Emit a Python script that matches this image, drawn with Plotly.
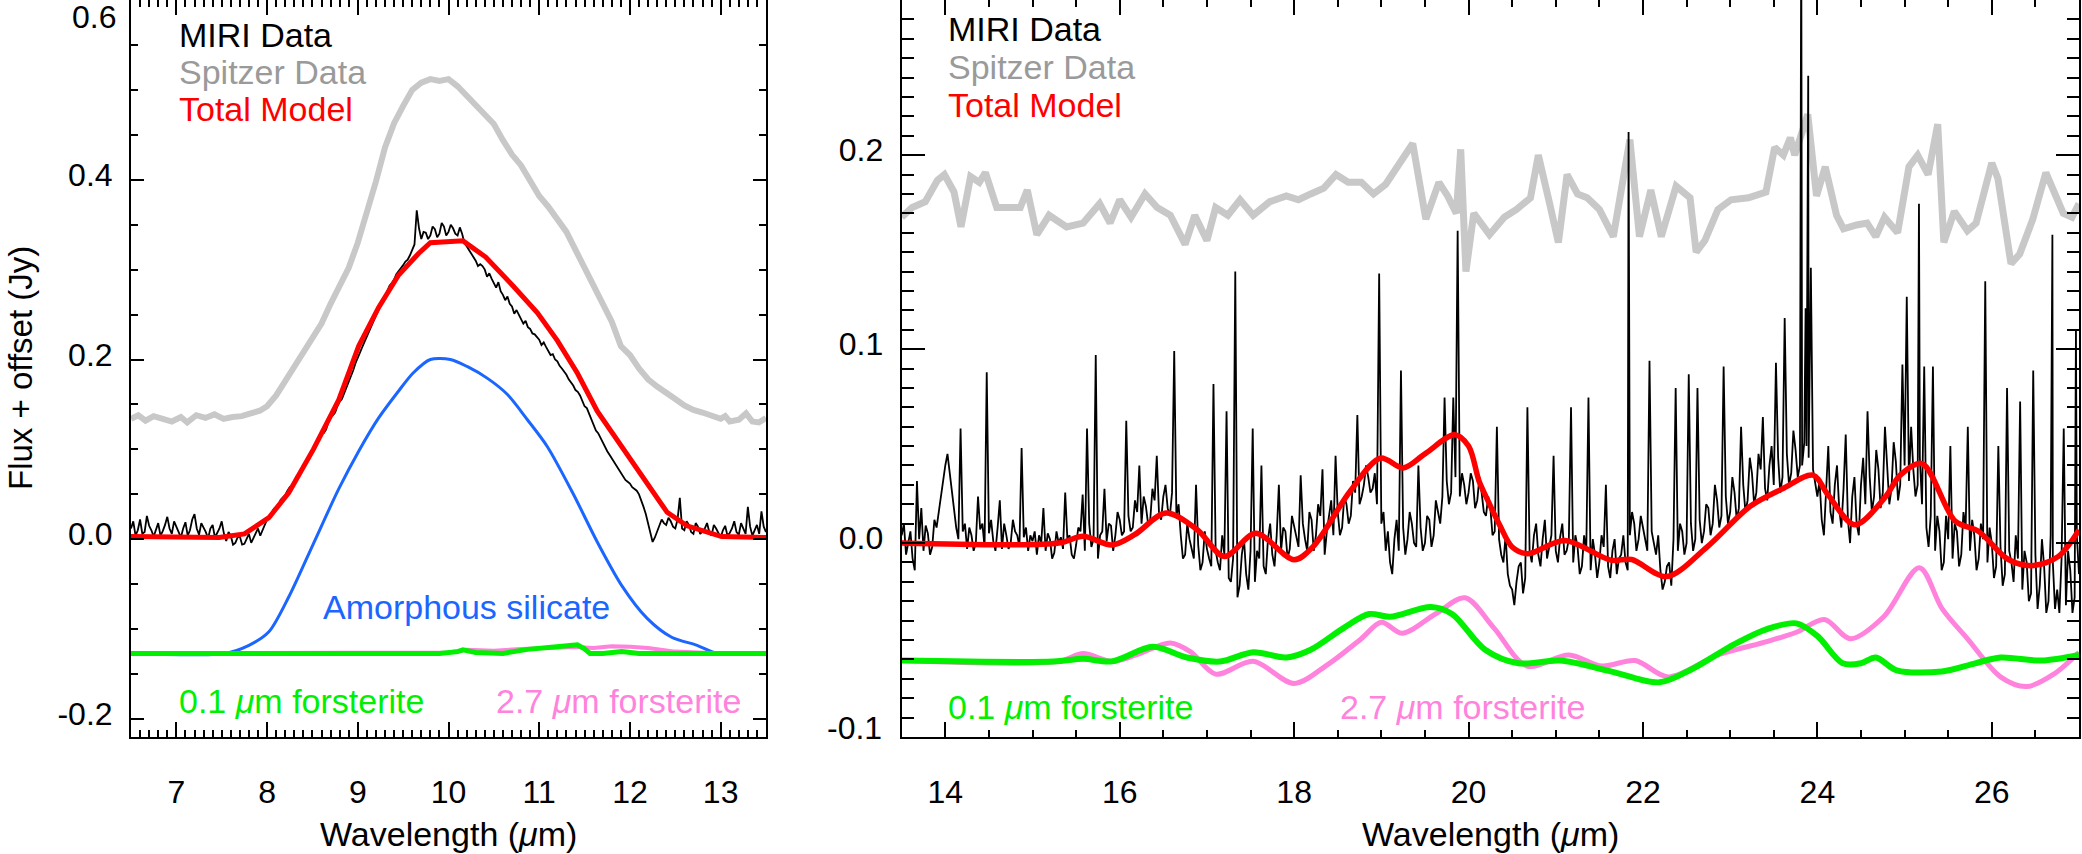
import plotly.graph_objects as go

W, H = 2082, 854
FONT = "Liberation Sans, Arial, Helvetica, sans-serif"

# ---------------- Left panel data (6.5 - 13.5 um) ----------------
left_spitzer_x = [6.50, 6.58, 6.66, 6.75, 6.85, 6.95, 7.05, 7.12, 7.22, 7.32, 7.42, 7.52, 7.62, 7.72, 7.82, 7.92,
                  8.00, 8.10, 8.20, 8.30, 8.40, 8.50, 8.60, 8.70, 8.80, 8.90, 9.00, 9.10, 9.20, 9.30, 9.40, 9.50,
                  9.60, 9.70, 9.80, 9.90, 10.00, 10.10, 10.20, 10.30, 10.40, 10.50, 10.60, 10.70, 10.80, 10.90,
                  11.00, 11.10, 11.20, 11.30, 11.40, 11.50, 11.60, 11.70, 11.80, 11.90, 12.00, 12.10, 12.20,
                  12.30, 12.40, 12.50, 12.60, 12.70, 12.80, 12.90, 13.00, 13.05, 13.10, 13.20, 13.28, 13.35,
                  13.42, 13.50]
left_spitzer_y = [0.134, 0.138, 0.132, 0.137, 0.134, 0.131, 0.136, 0.130, 0.138, 0.135, 0.139, 0.134, 0.136, 0.137,
                  0.140, 0.143, 0.148, 0.160, 0.176, 0.192, 0.207, 0.222, 0.240, 0.262, 0.283, 0.302, 0.330, 0.362,
                  0.398, 0.436, 0.463, 0.482, 0.500, 0.508, 0.512, 0.510, 0.512, 0.504, 0.494, 0.484, 0.472, 0.462,
                  0.444, 0.428, 0.416, 0.398, 0.382, 0.370, 0.356, 0.342, 0.322, 0.302, 0.282, 0.262, 0.242, 0.215,
                  0.205, 0.190, 0.178, 0.170, 0.162, 0.156, 0.149, 0.144, 0.141, 0.137, 0.134, 0.137, 0.131, 0.133,
                  0.140, 0.131, 0.130, 0.135]

left_miri_x = [6.50, 6.55, 6.60, 6.65, 6.70, 6.75, 6.80, 6.85, 6.90, 6.95,
               7.00, 7.05, 7.10, 7.15, 7.20, 7.25, 7.30, 7.35, 7.40, 7.45,
               7.50, 7.55, 7.60, 7.65, 7.70, 7.75, 7.80, 7.85, 7.90, 7.95,
               8.00, 8.05, 8.10, 8.15, 8.20, 8.25, 8.30, 8.35, 8.40, 8.45,
               8.50, 8.55, 8.60, 8.65, 8.70, 8.75, 8.80, 8.85, 8.90, 8.95,
               9.00, 9.05, 9.10, 9.15, 9.20, 9.25, 9.30, 9.35, 9.40, 9.45,
               9.50, 9.55, 9.60, 9.65, 9.70, 9.75, 9.80, 9.85, 9.90, 9.95,
               10.00, 10.05, 10.10, 10.15, 10.20, 10.25, 10.30, 10.35, 10.40, 10.45,
               10.50, 10.55, 10.60, 10.65, 10.70, 10.75, 10.80, 10.85, 10.90, 10.95,
               11.00, 11.05, 11.10, 11.15, 11.20, 11.25, 11.30, 11.35, 11.40, 11.45,
               11.50, 11.55, 11.60, 11.65, 11.70, 11.75, 11.80, 11.85, 11.90, 11.95,
               12.00, 12.05, 12.10, 12.15, 12.20, 12.25, 12.30, 12.35, 12.40, 12.45,
               12.50, 12.55, 12.60, 12.65, 12.70, 12.75, 12.80, 12.85, 12.90, 12.95,
               13.00, 13.05, 13.10, 13.15, 13.20, 13.25, 13.30, 13.35, 13.40, 13.45,
               13.50]
left_miri_y = [0.012, 0.004, 0.022, 0.008, 0.015, 0.003, 0.018, 0.009, 0.025, 0.006,
               0.014, 0.002, 0.019, 0.010, 0.028, 0.005, 0.013, 0.001, 0.016, 0.007,
               0.020, -0.002, 0.004, -0.004, 0.003, -0.005, 0.006, 0.001, 0.012, 0.010,
               0.022, 0.030, 0.036, 0.044, 0.049, 0.058, 0.066, 0.072, 0.083, 0.090,
               0.100, 0.106, 0.118, 0.122, 0.136, 0.141, 0.153, 0.162, 0.176, 0.188,
               0.203, 0.214, 0.226, 0.238, 0.249, 0.262, 0.270, 0.282, 0.289, 0.298,
               0.305, 0.311, 0.322, 0.366, 0.334, 0.341, 0.338, 0.345, 0.340, 0.348,
               0.342, 0.346, 0.338, 0.340, 0.326, 0.318, 0.310, 0.306, 0.300, 0.296,
               0.285, 0.286, 0.272, 0.270, 0.259, 0.255, 0.246, 0.243, 0.234, 0.228,
               0.222, 0.219, 0.210, 0.206, 0.198, 0.190, 0.183, 0.175, 0.166, 0.160,
               0.148, 0.140, 0.126, 0.118, 0.108, 0.098, 0.090, 0.081, 0.074, 0.066,
               0.062, 0.056, 0.050, 0.036, 0.018, -0.003, 0.008, 0.022, 0.016, 0.020,
               0.012, 0.046, 0.010, 0.016, 0.006, 0.014, 0.009, 0.018, 0.004, 0.012,
               0.002, 0.015, 0.007, 0.020, 0.005, 0.012, 0.036, 0.004, 0.016, 0.031,
               0.008]
left_miri_mid_x = [6.525, 6.575, 6.625, 6.675, 6.725, 6.775, 6.825, 6.875, 6.925, 6.975,
                   7.025, 7.075, 7.125, 7.175, 7.225, 7.275, 7.325, 7.375, 7.425, 7.475,
                   7.525, 7.575, 7.625, 7.675, 7.725, 7.775, 7.825, 7.875, 7.925, 7.975,
                   8.025, 8.075, 8.125, 8.175, 8.225, 8.275, 8.325, 8.375, 8.425, 8.475,
                   8.525, 8.575, 8.625, 8.675, 8.725, 8.775, 8.825, 8.875, 8.925, 8.975,
                   9.025, 9.075, 9.125, 9.175, 9.225, 9.275, 9.325, 9.375, 9.425, 9.475,
                   9.525, 9.575, 9.625, 9.675, 9.725, 9.775, 9.825, 9.875, 9.925, 9.975,
                   10.025, 10.075, 10.125, 10.175, 10.225, 10.275, 10.325, 10.375, 10.425, 10.475,
                   10.525, 10.575, 10.625, 10.675, 10.725, 10.775, 10.825, 10.875, 10.925, 10.975,
                   11.025, 11.075, 11.125, 11.175, 11.225, 11.275, 11.325, 11.375, 11.425, 11.475,
                   11.525, 11.575, 11.625, 11.675, 11.725, 11.775, 11.825, 11.875, 11.925, 11.975,
                   12.025, 12.075, 12.125, 12.175, 12.225, 12.275, 12.325, 12.375, 12.425, 12.475,
                   12.525, 12.575, 12.625, 12.675, 12.725, 12.775, 12.825, 12.875, 12.925, 12.975,
                   13.025, 13.075, 13.125, 13.175, 13.225, 13.275, 13.325, 13.375, 13.425, 13.475]
left_miri_mid_y = [0.020, 0.010, 0.006, 0.026, 0.010, 0.012, 0.004, 0.016, 0.012, 0.020,
                   0.008, 0.012, 0.004, 0.022, 0.012, 0.018, 0.008, 0.012, 0.002, 0.012,
                   0.006, 0.008, -0.006, 0.002, -0.006, 0.000, -0.004, 0.006, 0.004, 0.016,
                   0.024, 0.034, 0.038, 0.046, 0.054, 0.060, 0.070, 0.077, 0.086, 0.096,
                   0.102, 0.112, 0.118, 0.130, 0.138, 0.148, 0.156, 0.170, 0.180, 0.196,
                   0.208, 0.220, 0.232, 0.244, 0.255, 0.266, 0.276, 0.285, 0.295, 0.301,
                   0.309, 0.316, 0.328, 0.346, 0.342, 0.334, 0.348, 0.336, 0.352, 0.338,
                   0.350, 0.340, 0.347, 0.330, 0.322, 0.314, 0.304, 0.304, 0.292, 0.290,
                   0.280, 0.276, 0.266, 0.262, 0.251, 0.250, 0.240, 0.236, 0.229, 0.225,
                   0.216, 0.214, 0.205, 0.200, 0.193, 0.187, 0.178, 0.171, 0.164, 0.153,
                   0.146, 0.132, 0.121, 0.113, 0.102, 0.094, 0.085, 0.078, 0.070, 0.064,
                   0.058, 0.054, 0.044, 0.028, 0.006, 0.002, 0.016, 0.018, 0.024, 0.014,
                   0.022, 0.012, 0.020, 0.008, 0.018, 0.006, 0.012, 0.008, 0.016, 0.006,
                   0.010, 0.004, 0.012, 0.008, 0.018, 0.006, 0.014, 0.010, 0.006, 0.014]

left_model_x = [6.5, 7.0, 7.47, 7.75, 8.02, 8.24, 8.51, 8.79, 9.01, 9.23, 9.45, 9.67, 9.8, 10.16, 10.41, 10.71,
                10.98, 11.2, 11.42, 11.64, 11.91, 12.19, 12.41, 12.63, 13.01, 13.5]
left_model_y = [0.003, 0.003, 0.002, 0.006, 0.024, 0.052, 0.100, 0.155, 0.215, 0.258, 0.294, 0.318, 0.330, 0.332,
                0.314, 0.282, 0.252, 0.221, 0.185, 0.1425, 0.103, 0.064, 0.030, 0.015, 0.003, 0.002]

left_amorph_x = [6.5, 7.53, 7.8, 8.02, 8.24, 8.51, 8.79, 9.01, 9.23, 9.45, 9.61, 9.8, 10.02, 10.21, 10.43, 10.65,
                 10.87, 11.09, 11.37, 11.64, 11.91, 12.19, 12.46, 12.74, 12.96, 13.5]
left_amorph_y = [-0.127, -0.127, -0.118, -0.103, -0.064, -0.005, 0.056, 0.098, 0.135, 0.165, 0.185, 0.200, 0.200,
                 0.192, 0.179, 0.161, 0.133, 0.103, 0.0515, -0.003, -0.0515, -0.088, -0.109, -0.118, -0.127, -0.127]

left_fo01_x = [6.5, 9.9, 10.1, 10.16, 10.3, 10.5, 10.6, 10.87, 11.1, 11.37, 11.42, 11.5, 11.56, 11.7, 11.91, 12.1,
               12.5, 13.5]
left_fo01_y = [-0.127, -0.127, -0.125, -0.123, -0.126, -0.126, -0.127, -0.1225, -0.121, -0.118, -0.1175, -0.122,
               -0.127, -0.127, -0.125, -0.127, -0.127, -0.127]

left_fo27_x = [6.5, 9.8, 10.0, 10.2, 10.5, 10.8, 11.1, 11.4, 11.6, 11.8, 12.0, 12.2, 12.5, 13.0, 13.5]
left_fo27_y = [-0.127, -0.127, -0.126, -0.123, -0.124, -0.122, -0.121, -0.120, -0.121, -0.119, -0.1195, -0.121,
               -0.125, -0.127, -0.127]

# ---------------- Right panel data (13.5 - 27 um) ----------------
right_spitzer_x = [13.50, 13.62, 13.77, 13.91, 13.99, 14.10, 14.18, 14.29, 14.39, 14.46, 14.59, 14.86, 14.94,
                   15.05, 15.19, 15.39, 15.58, 15.77, 15.89, 16.00, 16.13, 16.29, 16.43, 16.58, 16.75, 16.86,
                   17.00, 17.10, 17.24, 17.38, 17.53, 17.72, 17.91, 18.05, 18.19, 18.34, 18.48, 18.62, 18.77,
                   18.91, 19.05, 19.19, 19.36, 19.51, 19.66, 19.76, 19.86, 19.91, 19.97, 20.06, 20.24, 20.41,
                   20.55, 20.71, 20.80, 20.93, 21.03, 21.13, 21.25, 21.36, 21.50, 21.66, 21.85, 21.96, 22.09,
                   22.21, 22.38, 22.54, 22.61, 22.71, 22.86, 23.01, 23.21, 23.41, 23.51, 23.61, 23.69, 23.74,
                   23.89, 23.99, 24.09, 24.22, 24.30, 24.45, 24.57, 24.67, 24.77, 24.92, 25.05, 25.15, 25.27,
                   25.38, 25.45, 25.57, 25.72, 25.82, 26.00, 26.07, 26.22, 26.32, 26.47, 26.62, 26.72, 26.82,
                   26.92, 27.00]
right_spitzer_y = [0.168, 0.173, 0.176, 0.187, 0.190, 0.181, 0.163, 0.189, 0.186, 0.191, 0.173, 0.173, 0.182,
                   0.159, 0.169, 0.163, 0.165, 0.175, 0.165, 0.177, 0.168, 0.180, 0.173, 0.169, 0.154, 0.169,
                   0.156, 0.173, 0.169, 0.177, 0.169, 0.176, 0.179, 0.177, 0.180, 0.183, 0.190, 0.186, 0.186,
                   0.180, 0.185, 0.194, 0.206, 0.167, 0.186, 0.179, 0.170, 0.203, 0.140, 0.170, 0.159, 0.168,
                   0.172, 0.178, 0.200, 0.175, 0.155, 0.190, 0.180, 0.178, 0.172, 0.158, 0.208, 0.158, 0.182,
                   0.158, 0.184, 0.178, 0.150, 0.156, 0.172, 0.177, 0.178, 0.181, 0.204, 0.200, 0.209, 0.200,
                   0.221, 0.179, 0.194, 0.169, 0.162, 0.164, 0.165, 0.158, 0.168, 0.160, 0.194, 0.200, 0.190,
                   0.216, 0.155, 0.171, 0.161, 0.165, 0.196, 0.188, 0.144, 0.149, 0.167, 0.191, 0.181, 0.170,
                   0.168, 0.175]

right_miri_x = [13.50, 13.55, 13.60, 13.65, 13.70, 13.75, 13.80, 13.85, 13.90, 13.95,
                14.00, 14.05, 14.10, 14.15, 14.20, 14.25, 14.30, 14.35, 14.40, 14.45,
                14.50, 14.55, 14.60, 14.65, 14.70, 14.75, 14.80, 14.85, 14.90, 14.95,
                15.00, 15.05, 15.10, 15.15, 15.20, 15.25, 15.30, 15.35, 15.40, 15.45,
                15.50, 15.55, 15.60, 15.65, 15.70, 15.75, 15.80, 15.85, 15.90, 15.95,
                16.00, 16.05, 16.10, 16.15, 16.20, 16.25, 16.30, 16.35, 16.40, 16.45,
                16.50, 16.55, 16.60, 16.65, 16.70, 16.75, 16.80, 16.85, 16.90, 16.95,
                17.00, 17.05, 17.10, 17.15, 17.20, 17.25, 17.30, 17.35, 17.40, 17.45,
                17.50, 17.55, 17.60, 17.65, 17.70, 17.75, 17.80, 17.85, 17.90, 17.95,
                18.00, 18.05, 18.10, 18.15, 18.20, 18.25, 18.30, 18.35, 18.40, 18.45,
                18.50, 18.55, 18.60, 18.65, 18.70, 18.75, 18.80, 18.85, 18.90, 18.95,
                19.00, 19.05, 19.10, 19.15, 19.20, 19.25, 19.30, 19.35, 19.40, 19.45,
                19.50, 19.55, 19.60, 19.65, 19.70, 19.75, 19.80, 19.85, 19.90, 19.95,
                20.00, 20.05, 20.10, 20.15, 20.20, 20.25, 20.30, 20.35, 20.40, 20.45,
                20.50, 20.55, 20.60, 20.65, 20.70, 20.75, 20.80, 20.85, 20.90, 20.95,
                21.00, 21.05, 21.10, 21.15, 21.20, 21.25, 21.30, 21.35, 21.40, 21.45,
                21.50, 21.55, 21.60, 21.65, 21.70, 21.75, 21.80, 21.85, 21.90, 21.95,
                22.00, 22.05, 22.10, 22.15, 22.20, 22.25, 22.30, 22.35, 22.40, 22.45,
                22.50, 22.55, 22.60, 22.65, 22.70, 22.75, 22.80, 22.85, 22.90, 22.95,
                23.00, 23.05, 23.10, 23.15, 23.20, 23.25, 23.30, 23.35, 23.40, 23.45,
                23.50, 23.55, 23.60, 23.65, 23.70, 23.75, 23.80, 23.85, 23.90, 23.95,
                24.00, 24.05, 24.10, 24.15, 24.20, 24.25, 24.30, 24.35, 24.40, 24.45,
                24.50, 24.55, 24.60, 24.65, 24.70, 24.75, 24.80, 24.85, 24.90, 24.95,
                25.00, 25.05, 25.10, 25.15, 25.20, 25.25, 25.30, 25.35, 25.40, 25.45,
                25.50, 25.55, 25.60, 25.65, 25.70, 25.75, 25.80, 25.85, 25.90, 25.95,
                26.00, 26.05, 26.10, 26.15, 26.20, 26.25, 26.30, 26.35, 26.40, 26.45,
                26.50, 26.55, 26.60, 26.65, 26.70, 26.75, 26.80, 26.85, 26.90, 26.95,
                27.00]
right_miri_y = [0.004, -0.006, 0.006, -0.014, 0.002, -0.004, 0.005, -0.002, 0.008, 0.024,
                0.040, 0.036, 0.018, 0.002, 0.006, -0.003, 0.004, 0.000, 0.007, -0.002,
                0.005, 0.001, 0.008, -0.003, 0.004, 0.000, 0.006, -0.002, 0.003, -0.004,
                0.001, -0.006, 0.000, -0.004, 0.002, -0.005, 0.000, -0.003, 0.002, -0.006,
                -0.001, 0.006, -0.004, 0.010, 0.002, -0.008, 0.006, 0.001, 0.009, 0.004,
                0.012, 0.006, 0.014, 0.008, 0.016, 0.010, 0.019, 0.012, 0.022, 0.016,
                0.024, 0.018, 0.026, 0.014, 0.004, -0.006, 0.002, -0.008, -0.001, -0.010,
                -0.003, -0.012, -0.004, -0.014, -0.006, -0.018, -0.008, -0.028, -0.006, -0.016,
                -0.004, -0.020, -0.008, -0.012, 0.002, -0.006, 0.004, -0.004, 0.006, -0.003,
                0.008, -0.002, 0.010, -0.004, 0.012, 0.004, 0.014, -0.006, 0.013, 0.004,
                0.016, 0.008, 0.020, 0.014, 0.026, 0.020, 0.030, 0.034, 0.028, 0.020,
                0.010, -0.004, -0.010, 0.002, -0.004, 0.008, 0.002, 0.010, -0.002, 0.008,
                0.000, 0.012, 0.004, 0.016, 0.024, 0.032, 0.026, 0.034, 0.024, 0.030,
                0.026, 0.032, 0.022, 0.026, 0.014, 0.018, 0.006, 0.002, -0.010, -0.016,
                -0.024, -0.020, -0.010, -0.018, -0.004, 0.004, -0.006, 0.002, -0.008, 0.004,
                -0.004, 0.003, -0.006, 0.002, -0.010, -0.002, -0.012, -0.004, -0.014, -0.006,
                -0.010, -0.002, -0.012, -0.004, -0.016, -0.006, -0.010, 0.004, 0.010, 0.002,
                0.008, -0.004, 0.006, -0.006, -0.014, -0.020, -0.010, 0.002, -0.004, 0.006,
                0.000, 0.010, 0.002, 0.012, 0.006, 0.018, 0.010, 0.022, 0.014, 0.024,
                0.016, 0.026, 0.018, 0.030, 0.022, 0.036, 0.026, 0.038, 0.028, 0.040,
                0.030, 0.044, 0.034, 0.046, 0.036, 0.048, 0.040, 0.052, 0.044, 0.038,
                0.024, 0.012, 0.026, 0.016, 0.030, 0.018, 0.028, 0.012, 0.024, 0.010,
                0.030, 0.020, 0.034, 0.024, 0.038, 0.026, 0.040, 0.028, 0.042, 0.030,
                0.040, 0.032, 0.038, 0.030, 0.020, 0.008, 0.014, -0.004, 0.006, -0.010,
                0.002, -0.008, 0.006, -0.006, 0.008, -0.004, 0.004, -0.008, 0.002, -0.010,
                0.000, -0.012, -0.002, -0.016, -0.004, -0.020, -0.008, -0.024, -0.010, -0.026,
                -0.006, -0.022, -0.012, -0.030, -0.010, -0.024, -0.008, -0.032, -0.014, -0.028,
                -0.016]

right_miri_mid_x = [13.525, 13.575, 13.625, 13.675, 13.725, 13.775, 13.825, 13.875, 13.925, 13.975,
                    14.025, 14.075, 14.125, 14.175, 14.225, 14.275, 14.325, 14.375, 14.425, 14.475,
                    14.525, 14.575, 14.625, 14.675, 14.725, 14.775, 14.825, 14.875, 14.925, 14.975,
                    15.025, 15.075, 15.125, 15.175, 15.225, 15.275, 15.325, 15.375, 15.425, 15.475,
                    15.525, 15.575, 15.625, 15.675, 15.725, 15.775, 15.825, 15.875, 15.925, 15.975,
                    16.025, 16.075, 16.125, 16.175, 16.225, 16.275, 16.325, 16.375, 16.425, 16.475,
                    16.525, 16.575, 16.625, 16.675, 16.725, 16.775, 16.825, 16.875, 16.925, 16.975,
                    17.025, 17.075, 17.125, 17.175, 17.225, 17.275, 17.325, 17.375, 17.425, 17.475,
                    17.525, 17.575, 17.625, 17.675, 17.725, 17.775, 17.825, 17.875, 17.925, 17.975,
                    18.025, 18.075, 18.125, 18.175, 18.225, 18.275, 18.325, 18.375, 18.425, 18.475,
                    18.525, 18.575, 18.625, 18.675, 18.725, 18.775, 18.825, 18.875, 18.925, 18.975,
                    19.025, 19.075, 19.125, 19.175, 19.225, 19.275, 19.325, 19.375, 19.425, 19.475,
                    19.525, 19.575, 19.625, 19.675, 19.725, 19.775, 19.825, 19.875, 19.925, 19.975,
                    20.025, 20.075, 20.125, 20.175, 20.225, 20.275, 20.325, 20.375, 20.425, 20.475,
                    20.525, 20.575, 20.625, 20.675, 20.725, 20.775, 20.825, 20.875, 20.925, 20.975,
                    21.025, 21.075, 21.125, 21.175, 21.225, 21.275, 21.325, 21.375, 21.425, 21.475,
                    21.525, 21.575, 21.625, 21.675, 21.725, 21.775, 21.825, 21.875, 21.925, 21.975,
                    22.025, 22.075, 22.125, 22.175, 22.225, 22.275, 22.325, 22.375, 22.425, 22.475,
                    22.525, 22.575, 22.625, 22.675, 22.725, 22.775, 22.825, 22.875, 22.925, 22.975,
                    23.025, 23.075, 23.125, 23.175, 23.225, 23.275, 23.325, 23.375, 23.425, 23.475,
                    23.525, 23.575, 23.625, 23.675, 23.725, 23.775, 23.825, 23.875, 23.925, 23.975,
                    24.025, 24.075, 24.125, 24.175, 24.225, 24.275, 24.325, 24.375, 24.425, 24.475,
                    24.525, 24.575, 24.625, 24.675, 24.725, 24.775, 24.825, 24.875, 24.925, 24.975,
                    25.025, 25.075, 25.125, 25.175, 25.225, 25.275, 25.325, 25.375, 25.425, 25.475,
                    25.525, 25.575, 25.625, 25.675, 25.725, 25.775, 25.825, 25.875, 25.925, 25.975,
                    26.025, 26.075, 26.125, 26.175, 26.225, 26.275, 26.325, 26.375, 26.425, 26.475,
                    26.525, 26.575, 26.625, 26.675, 26.725, 26.775, 26.825, 26.875, 26.925, 26.975]
right_miri_mid_y = [0.010, 0.000, -0.008, 0.032, 0.018, 0.009, -0.006, 0.012, 0.016, 0.034,
                    0.046, 0.028, 0.008, 0.059, 0.010, 0.008, -0.004, 0.024, 0.010, 0.088,
                    0.012, -0.004, 0.022, 0.010, -0.003, 0.012, 0.004, 0.049, 0.008, 0.004,
                    0.006, 0.004, 0.018, 0.005, -0.008, 0.006, 0.003, 0.026, 0.004, -0.008,
                    0.008, 0.025, 0.059, -0.002, 0.097, 0.004, 0.028, 0.010, -0.004, 0.016,
                    0.004, 0.063, 0.006, 0.022, 0.040, 0.024, 0.010, 0.028, 0.045, 0.012,
                    0.030, 0.014, 0.099, 0.020, -0.008, 0.010, -0.004, 0.030, -0.014, 0.006,
                    -0.008, 0.082, -0.010, 0.004, 0.068, -0.020, 0.140, -0.022, 0.002, -0.024,
                    0.059, -0.004, 0.040, -0.016, 0.010, -0.012, 0.030, 0.008, -0.008, 0.014,
                    0.004, 0.035, 0.002, 0.016, -0.004, 0.020, 0.038, 0.006, 0.022, 0.045,
                    0.004, 0.024, 0.010, 0.032, 0.066, 0.024, 0.040, 0.026, 0.036, 0.139,
                    0.016, 0.006, -0.016, 0.012, 0.089, -0.006, 0.016, 0.000, 0.040, -0.004,
                    0.014, -0.002, 0.022, 0.010, 0.075, 0.020, 0.075, 0.161, 0.036, 0.020,
                    0.036, 0.018, 0.034, 0.016, 0.024, 0.004, 0.060, -0.006, 0.004, -0.022,
                    -0.032, -0.012, -0.026, 0.070, -0.010, 0.010, -0.012, 0.012, -0.002, 0.045,
                    -0.010, 0.010, -0.004, 0.070, 0.004, -0.016, 0.004, 0.075, 0.002, -0.018,
                    0.004, 0.030, -0.018, 0.002, -0.008, 0.004, -0.014, 0.016, -0.004, 0.014,
                    0.002, 0.094, 0.000, 0.004, -0.024, -0.012, -0.022, 0.080, 0.010, -0.006,
                    0.087, -0.004, 0.080, 0.000, 0.020, 0.004, 0.030, 0.008, 0.091, 0.010,
                    0.034, 0.012, 0.060, 0.016, 0.044, 0.020, 0.046, 0.065, 0.022, 0.050,
                    0.093, 0.026, 0.116, 0.030, 0.058, 0.034, 0.040, 0.050, 0.142, 0.030,
                    0.032, 0.004, 0.050, 0.010, 0.040, 0.008, 0.056, 0.000, 0.034, 0.004,
                    0.044, 0.068, 0.016, 0.048, 0.018, 0.060, 0.020, 0.052, 0.022, 0.092,
                    0.127, 0.060, 0.024, 0.044, 0.091, -0.002, 0.091, 0.014, -0.014, 0.014,
                    0.050, 0.010, -0.012, 0.016, 0.060, 0.012, -0.014, 0.010, 0.135, 0.008,
                    -0.018, 0.050, -0.022, 0.080, -0.010, 0.004, 0.073, -0.004, -0.030, 0.089,
                    -0.034, 0.002, -0.036, 0.004, -0.034, -0.036, 0.059, -0.004, -0.036, 0.004]

right_line_x = [21.835, 23.815, 23.865, 23.895, 25.165, 26.695, 26.965]
right_line_y = [0.212, 0.320, 0.121, 0.241, 0.175, 0.159, 0.110]

right_model_x = [13.5, 15.3, 15.58, 15.91, 16.17, 16.53, 16.89, 17.2, 17.56, 18.0, 18.22, 18.64, 18.99, 19.25, 19.5,
                 19.84, 20.0, 20.12, 20.21, 20.36, 20.5, 20.68, 21.1, 21.63, 21.87, 22.27, 22.73, 23.23, 23.6,
                 23.95, 24.12, 24.43, 24.78, 24.95, 25.2, 25.58, 25.85, 26.19, 26.48, 26.76, 27.0]
right_model_y = [0.0, 0.0, 0.0035, -0.001, 0.0043, 0.0155, 0.0069, -0.0069, 0.005, -0.0086, -0.0017, 0.0266,
                 0.0438, 0.0387, 0.046, 0.0558, 0.050, 0.032, 0.023, 0.009, -0.002, -0.0055, 0.0013, -0.0088,
                 -0.0085, -0.0173, -0.0022, 0.019, 0.028, 0.035, 0.025, 0.0094, 0.0238, 0.035, 0.041, 0.0113,
                 0.006, -0.0085, -0.0116, -0.007, 0.0068]

right_fo01_x = [13.5, 15.24, 15.58, 15.91, 16.38, 16.77, 17.15, 17.53, 17.91, 18.19, 18.57, 18.86, 19.1, 19.57,
                19.81, 20.19, 20.57, 21.05, 21.62, 22.19, 22.57, 23.05, 23.43, 23.76, 24.0, 24.29, 24.5, 24.67,
                24.91, 25.43, 25.81, 26.1, 26.57, 27.0]
right_fo01_y = [-0.0606, -0.0611, -0.0597, -0.061, -0.0535, -0.059, -0.0611, -0.0563, -0.059, -0.055, -0.0437,
                -0.0366, -0.038, -0.033, -0.0366, -0.055, -0.062, -0.0606, -0.066, -0.0718, -0.0648, -0.0521,
                -0.0442, -0.0414, -0.0479, -0.062, -0.062, -0.059, -0.0656, -0.0662, -0.062, -0.059, -0.0606,
                -0.0577]

right_fo27_x = [13.5, 15.3, 15.58, 15.91, 16.19, 16.58, 16.81, 17.1, 17.53, 18.0, 18.38, 18.77, 19.0, 19.24,
                19.62, 19.96, 20.29, 20.67, 21.15, 21.53, 21.91, 22.29, 22.86, 23.43, 23.76, 24.08, 24.38, 24.76,
                25.17, 25.43, 25.72, 26.1, 26.4, 26.71, 27.0]
right_fo27_y = [-0.0606, -0.061, -0.057, -0.061, -0.0577, -0.0515, -0.056, -0.0676, -0.061, -0.0724, -0.0628,
                -0.0493, -0.0408, -0.0465, -0.0366, -0.0282, -0.0437, -0.0634, -0.0577, -0.0634, -0.0606, -0.069,
                -0.0577, -0.0507, -0.046, -0.0394, -0.0493, -0.038, -0.0127, -0.0338, -0.0493, -0.069, -0.074,
                -0.0676, -0.0563]

# tick labels
left_ytick_vals = [-0.2, 0.0, 0.2, 0.4, 0.6]
left_ytick_text = ["-0.2", "0.0", "0.2", "0.4", ""]
right_ytick_vals = [-0.1, 0.0, 0.1, 0.2]
right_ytick_text = ["", "0.0", "0.1", "0.2"]


def merged(xs, ys):
    pairs = sorted(zip(xs, ys))
    return [p[0] for p in pairs], [p[1] for p in pairs]


lmx, lmy = merged(left_miri_x + left_miri_mid_x, left_miri_y + left_miri_mid_y)
rmx, rmy = merged(right_miri_x + right_miri_mid_x + right_line_x, right_miri_y + right_miri_mid_y + right_line_y)

GRAY = "#c8c8c8"
GRAY_TXT = "#9a9a9a"
RED = "#ff0000"
BLUE = "#1a66ff"
GREEN = "#00f000"
PINK = "#ff82dc"

fig = go.Figure()


def line(x, y, color, width, xa, ya, shape="linear", smooth=None):
    ln = dict(color=color, width=width, shape=shape)
    if smooth is not None:
        ln["smoothing"] = smooth
    fig.add_trace(go.Scatter(x=x, y=y, mode="lines", line=ln, xaxis=xa, yaxis=ya,
                             showlegend=False, hoverinfo="skip"))


line(left_spitzer_x, left_spitzer_y, GRAY, 6, "x", "y")
line(lmx, lmy, "black", 1.8, "x", "y")
line(left_model_x, left_model_y, RED, 5, "x", "y")
line(left_amorph_x, left_amorph_y, BLUE, 3, "x", "y", "spline", 0.8)
line(left_fo27_x, left_fo27_y, PINK, 4, "x", "y")
line(left_fo01_x, left_fo01_y, GREEN, 5, "x", "y")
line(right_spitzer_x, right_spitzer_y, GRAY, 7, "x2", "y2")
line(rmx, rmy, "black", 1.8, "x2", "y2")
line(right_model_x, right_model_y, RED, 5.5, "x2", "y2", "spline", 0.9)
line(right_fo27_x, right_fo27_y, PINK, 5, "x2", "y2", "spline", 0.9)
line(right_fo01_x, right_fo01_y, GREEN, 6, "x2", "y2", "spline", 0.9)


def px(v):
    return v / W


def py(v):
    return 1 - v / H


tickfont = dict(family=FONT, size=32, color="black")
base = dict(showline=True, linecolor="black", linewidth=2, ticks="inside", mirror="allticks",
            tickcolor="black", tickwidth=2, showgrid=False, zeroline=False, tickfont=tickfont)


def minor(dt, ln):
    return dict(ticks="inside", tickmode="linear", tick0=0, dtick=dt, ticklen=ln, tickcolor="black", tickwidth=2,
                showgrid=False)


ydom = [1 - 737 / H, 1.0]

fig.update_layout(
    template="none",
    width=W, height=H, margin=dict(l=0, r=0, t=0, b=0),
    paper_bgcolor="white", plot_bgcolor="white", showlegend=False,
    xaxis=dict(domain=[px(131), px(766)], range=[6.5, 13.5], anchor="y", tickmode="linear", tick0=0, dtick=1,
               ticklen=15, ticklabelstandoff=26, minor=minor(0.1, 7), **base),
    yaxis=dict(domain=ydom, range=[-0.22, 0.6], anchor="x", tickmode="array", tickvals=left_ytick_vals,
               ticktext=left_ytick_text, ticklen=13, ticklabelstandoff=10, ticklabelshift=-5,
               minor=minor(0.05, 7), **base),
    xaxis2=dict(domain=[px(901.7), px(2079)], range=[13.5, 27.0], anchor="y2", tickmode="linear", tick0=0, dtick=2,
                ticklen=15, ticklabelstandoff=26, minor=minor(0.5, 7), **base),
    yaxis2=dict(domain=ydom, range=[-0.1, 0.28], anchor="x2", tickmode="array", tickvals=right_ytick_vals,
                ticktext=right_ytick_text, ticklen=23, ticklabelstandoff=10, ticklabelshift=-5,
                minor=minor(0.01, 12), **base),
)

AF = 34
anns = [
    ("MIRI Data", 177, 35, "black", "left", 0),
    ("Spitzer Data", 177, 72, GRAY_TXT, "left", 0),
    ("Total Model", 177, 109, RED, "left", 0),
    ("MIRI Data", 946, 29, "black", "left", 0),
    ("Spitzer Data", 946, 67, GRAY_TXT, "left", 0),
    ("Total Model", 946, 105, RED, "left", 0),
    ("Amorphous silicate", 321, 607, BLUE, "left", 0),
    ("0.1 <i>μ</i>m forsterite", 177, 701, GREEN, "left", 0),
    ("2.7 <i>μ</i>m forsterite", 494, 701, PINK, "left", 0),
    ("0.1 <i>μ</i>m forsterite", 946, 707, GREEN, "left", 0),
    ("2.7 <i>μ</i>m forsterite", 1338, 707, PINK, "left", 0),
    ("Wavelength (<i>μ</i>m)", 448, 834, "black", "center", 0),
    ("Wavelength (<i>μ</i>m)", 1490, 834, "black", "center", 0),
]
for text, x, y, color, xa, ang in anns:
    fig.add_annotation(text=text, x=px(x), y=py(y), xref="paper", yref="paper", xanchor=xa, yanchor="middle",
                       showarrow=False, textangle=ang, font=dict(family=FONT, size=AF, color=color))

fig.add_annotation(text="Flux + offset (Jy)", x=px(20), y=py(368), xref="paper", yref="paper", xanchor="center",
                   yanchor="middle", showarrow=False, textangle=-90, font=dict(family=FONT, size=33, color="black"))
fig.add_annotation(text="0.6", x=px(118), y=py(17), xref="paper", yref="paper", xanchor="right", yanchor="middle",
                   showarrow=False, font=tickfont)
fig.add_annotation(text="-0.1", x=px(884), y=py(728), xref="paper", yref="paper", xanchor="right", yanchor="middle",
                   showarrow=False, font=tickfont)

fig.write_html("out.html")
